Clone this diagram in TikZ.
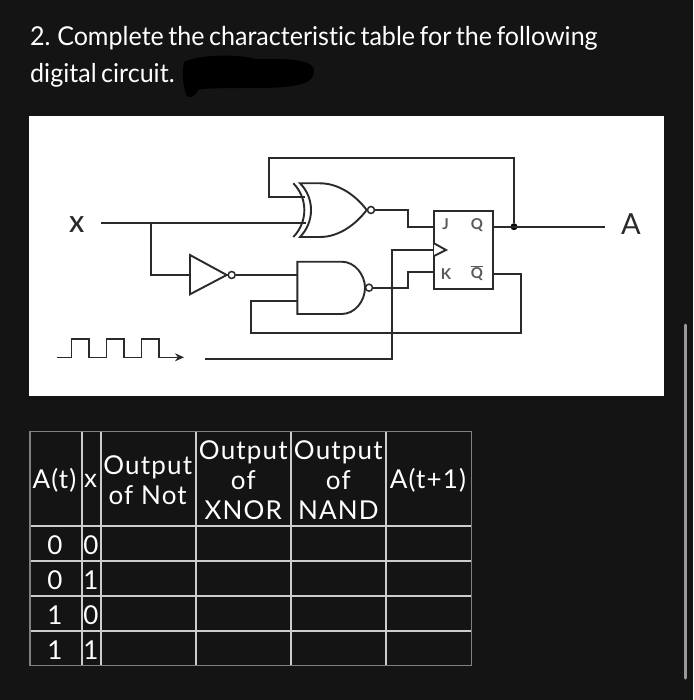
\documentclass[tikz,border=0pt]{standalone}
\usepackage{fontspec}
\setmainfont{Lato}
\newfontfamily\titlefont[FakeStretch=0.964,WordSpace=0.7,Ligatures=NoCommon]{Lato}
\usetikzlibrary{arrows.meta,calc}
\definecolor{pagebg}{HTML}{141414}
\definecolor{wirecol}{HTML}{2A2A2A}
\definecolor{pincol}{HTML}{5A5A5A}
\tikzset{
  wire/.style={draw=wirecol,line width=1.9pt,line join=miter},
  gate/.style={draw=wirecol,line width=1.9pt,fill=white},
  bubble/.style={circle,draw=wirecol,line width=1.5pt,fill=white,inner sep=0pt,minimum size=7pt},
  pinlabel/.style={text=pincol,font=\fontsize{15}{17}\selectfont\bfseries},
  celltext/.style={text=white,align=center,inner sep=0pt,font=\fontsize{26}{30}\selectfont\addfontfeature{LetterSpace=4.5}},
  titletext/.style={text=white,anchor=west,inner sep=0pt,font=\titlefont\fontsize{26}{30}\selectfont},
  gridline/.style={draw=white!80!black,line width=1.6pt},
  gridedge/.style={draw=white!50!black,line width=1.4pt},
}
\begin{document}
\begin{tikzpicture}[x=1pt,y=-1pt]
  \useasboundingbox[fill=pagebg] (0,0) rectangle (693,700);

  % question
  \node[titletext] (title1) at (30,38) {2. Complete the characteristic table for the following};
  \node[titletext] (title2) at (30,75) {digital circuit.};
  \fill[black] (184,62) .. controls (200,54) and (240,54) .. (255,59) .. controls (290,58) and (316,60) .. (314,72)
    .. controls (313,86) and (290,88) .. (250,88) .. controls (225,88) and (205,88) .. (198,90) .. controls (196,96) and (190,99) .. (187,96) .. controls (182,85) and (182,72) .. (184,62) -- cycle;

  % scroll bar
  \draw[white!60!black,line width=3pt,line cap=round] (685,325) -- (685,678);

  % circuit panel
  \fill[white] (29,116) rectangle (664,396);

  % gate outlines
  \draw[gate] (190,255) -- (226.7,275) -- (190,294.3) -- cycle;
  \draw[gate] (300,183.3) -- (320,183.3) .. controls (340,183.3) and (357,197) .. (366.7,210)
    .. controls (357,223) and (340,237) .. (320,237) -- (300,237)
    .. controls (314.7,222) and (314.7,198) .. (300,183.3) -- cycle;
  \draw[wire] (293.3,183.3) .. controls (308,198) and (308,222) .. (293.3,237);
  \draw[gate] (297.3,261.7) -- (341.7,261.7) .. controls (355,261.7) and (365,275) .. (365,287.7)
    .. controls (365,301) and (355,314) .. (341.7,314) -- (297.3,314) -- cycle;
  \draw[gate] (434,210.7) rectangle (493.3,288.7);
  \draw[gate] (434,243.3) -- (446,250) -- (434,256);

  \begin{scope}[every node/.style={bubble}]
    \node (notout)  at (231.7,275)  {};
    \node (xnorout) at (371,210)    {};
    \node (nandout) at (369,287.7)  {};
  \end{scope}

  % pins
  \coordinate (xin)     at (101,223.3);
  \coordinate (xsplit)  at (150.7,223.3);
  \coordinate (xnora)   at (305,197.3);
  \coordinate (xnorb)   at (306,223.3);
  \coordinate (notin)   at (190,275);
  \coordinate (nanda)   at (297.3,275);
  \coordinate (nandb)   at (297.3,301);
  \coordinate (jpin)    at (434,226.7);
  \coordinate (kpin)    at (434,272.3);
  \coordinate (clkpin)  at (434,250);
  \coordinate (qpin)    at (493.3,226.7);
  \coordinate (qbarpin) at (493.3,274.3);
  \coordinate (clkin)   at (205,359);
  \coordinate (aout)    at (605,226.7);
  \node[circle,fill=black,inner sep=0pt,minimum size=7pt] (qdot) at (514,226.7) {};

  % wires
  \draw[wire] (xin) -- (xnorb);
  \draw[wire] (xsplit) |- (notin);
  \draw[wire] (notout) -- (nanda);
  \draw[wire] (qpin) -- (aout);
  \draw[wire] (qdot) |- (269.3,158.3) |- (xnora);
  \draw[wire] (xnorout) -- (408.3,210) |- (jpin);
  \draw[wire] (nandout) -- (408.3,287.7) |- (kpin);
  \draw[wire] (clkin) -- (391.7,359) |- (clkpin);
  \draw[wire] (qbarpin) -- (521,274.3) |- (250.7,332.7) |- (nandb);

  % clock symbol
  \draw[wire,line width=1.5pt,-{Stealth[length=9pt,width=8pt]}] (56.7,357.3) -- (71.7,357.3) -- (71.7,339) -- (89,339) -- (89,357.3)
    -- (106.7,357.3) -- (106.7,339) -- (124,339) -- (124,357.3) -- (141.7,357.3) -- (141.7,339) -- (159,339) -- (159,357.3) -- (184,357.3);

  % circuit labels
  \node[text=wirecol,inner sep=0pt,font=\fontsize{22}{25}\selectfont\bfseries] (xlabel) at (76.7,225) {X};
  \node[text=wirecol,inner sep=0pt,font=\fontsize{29}{30}\selectfont] (alabel) at (631,224) {A};
  \begin{scope}[every node/.style={pinlabel}]
    \node (jlabel) at (445.5,224.5) {J};
    \node (qlabel) at (477,225)     {Q};
    \node (klabel) at (446,274.5)   {K};
    \node (qbarlabel) at (477,273.5)  {$\overline{\mbox{Q}}$};
  \end{scope}

  % table grid
  \foreach \ypos in {525.7,560.7,596,630.7}
    \draw[gridline] (30,\ypos) -- (471.7,\ypos);
  \foreach \xpos in {81.7,101,196,291,386}
    \draw[gridline] (\xpos,431.7) -- (\xpos,665.7);
  \draw[gridedge] (30,431.7) rectangle (471.7,665.7);

  % table head
  \begin{scope}[every node/.style={celltext}]
    \node (headat)   at (54.5,480)  {A(t)};
    \node (headx)    at (90.7,481)  {x};
    \node (headnot)  at (147.7,480) {Output\\of Not};
    \node (headxnor) at (243.3,480) {Output\\of\\XNOR};
    \node (headnand) at (338.3,480) {Output\\of\\NAND};
    \node (headnext) at (428,480)   {A(t+1)};
    % table body
    \foreach \ypos/\aval/\xval [count=\rownum] in {545/0/0,580/0/1,615/1/0,650/1/1} {
      \node (a\rownum) at (55,\ypos) {\aval};
      \node (x\rownum) at (91,\ypos) {\xval};
    }
  \end{scope}

\end{tikzpicture}
\end{document}
